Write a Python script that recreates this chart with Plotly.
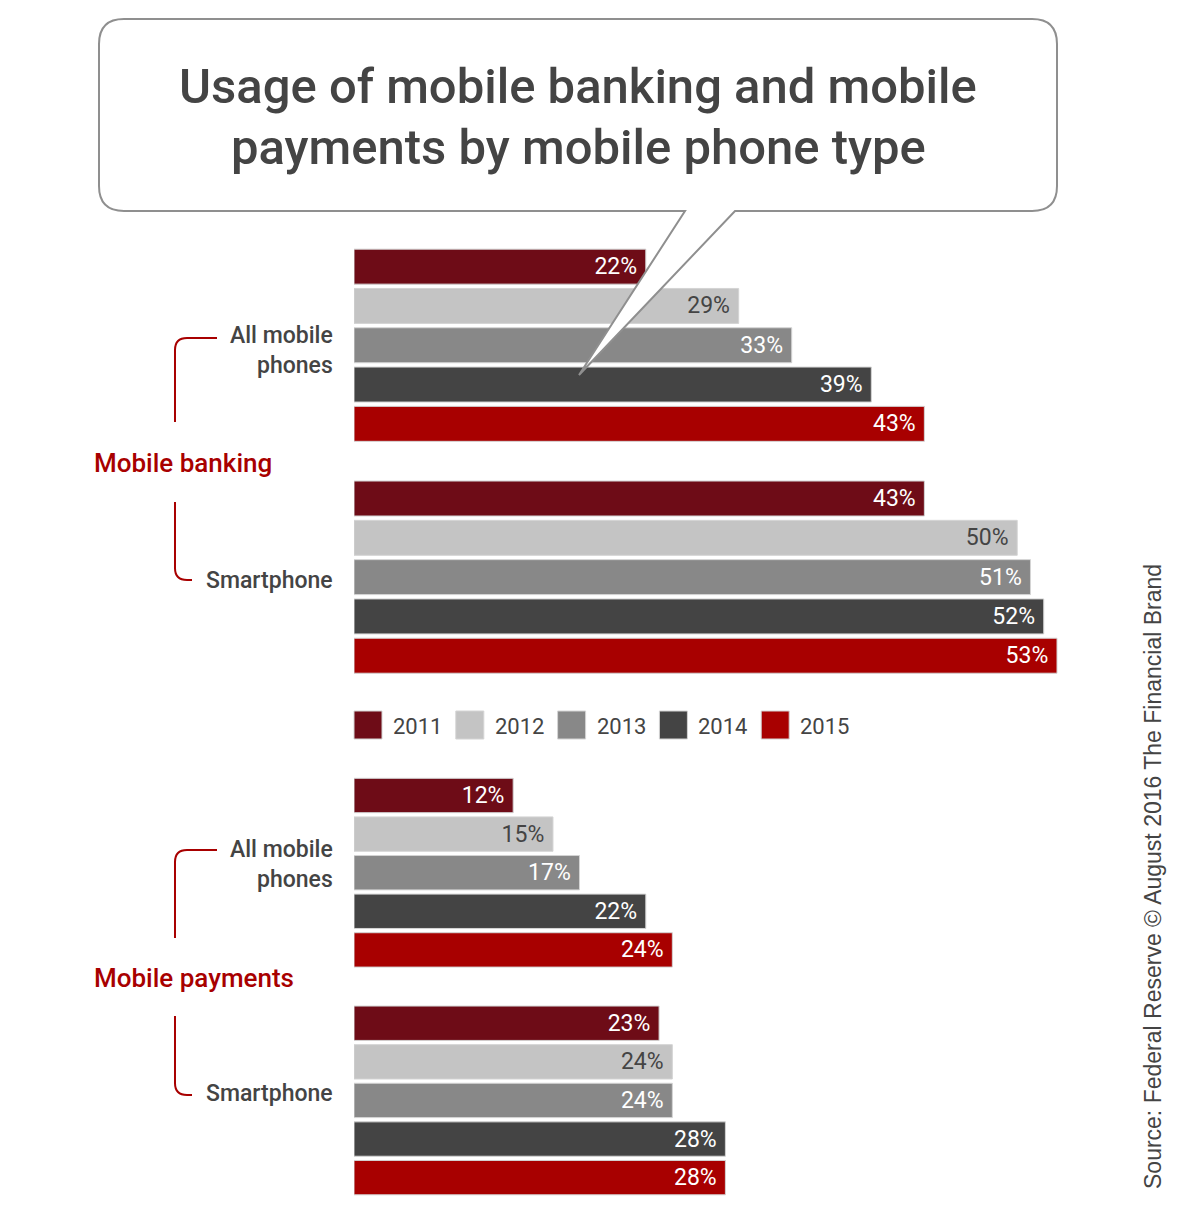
import plotly.graph_objects as go

W, H = 1182, 1212

years = ["2011", "2012", "2013", "2014", "2015"]
colors = ["#6e0c17", "#c4c4c4", "#888888", "#444444", "#a80000"]
text_colors = ["white", "#444444", "white", "white", "white"]

panels = ["Mobile banking", "Mobile payments"]
phone_types = ["All mobile<br>phones", "Smartphone"]

# percent of users, one entry per year
banking_all = [22, 29, 33, 39, 43]
banking_smart = [43, 50, 51, 52, 53]
payments_all = [12, 15, 17, 22, 24]
payments_smart = [23, 24, 24, 28, 28]

title_lines = ["Usage of mobile banking and mobile", "payments by mobile phone type"]
source = "Source: Federal Reserve © August 2016 The Financial Brand"

COND = "Roboto, 'Liberation Sans Narrow', sans-serif"
DARK = "#444444"
RED = "#a80000"

GAP = 5.9  # slot offset between the two phone-type groups


def px(x):
    return x / W


def py(y):
    return 1 - y / H


fig = go.Figure()

panel_data = [(banking_all, banking_smart), (payments_all, payments_smart)]
for p, (all_vals, smart_vals) in enumerate(panel_data):
    xa = "x" if p == 0 else "x2"
    ya = "y" if p == 0 else "y2"
    for j, yr in enumerate(years):
        fig.add_trace(
            go.Bar(
                x=[all_vals[j], smart_vals[j]],
                y=[j, j + GAP],
                orientation="h",
                width=0.89,
                name=yr,
                legendgroup=yr,
                showlegend=False,
                marker=dict(color=colors[j], line=dict(color="#d4d4d4", width=1)),
                texttemplate="%{x}%\u00a0",
                textposition="inside",
                insidetextanchor="end",
                constraintext="none",
                textfont=dict(family=COND, size=23, color=text_colors[j]),
                xaxis=xa,
                yaxis=ya,
                hovertemplate=panels[p] + " " + yr + ": %{x}%<extra></extra>",
            )
        )

x_scale = (1057 - 354) / 53
x_dom = [px(354), px(354 + 60 * x_scale)]
top0, top_pitch = 247, 39.3
bot0, bot_pitch = 776.2, 38.6
n_slots = 4 + GAP + 1

axis_off = dict(visible=False, showgrid=False, zeroline=False, fixedrange=True)
fig.update_layout(
    xaxis=dict(domain=x_dom, range=[0, 60], anchor="y", **axis_off),
    xaxis2=dict(domain=x_dom, range=[0, 60], anchor="y2", matches="x", **axis_off),
    yaxis=dict(
        domain=[py(top0 + n_slots * top_pitch), py(top0)],
        range=[4 + GAP + 0.5, -0.5],
        anchor="x",
        **axis_off,
    ),
    yaxis2=dict(
        domain=[py(bot0 + n_slots * bot_pitch), py(bot0)],
        range=[4 + GAP + 0.5, -0.5],
        anchor="x2",
        **axis_off,
    ),
)

shapes = []
annotations = []

# speech-bubble title box
def P(x, y):
    return f"{px(x):.5f},{py(y):.5f}"

bubble = (
    f"M{P(124, 19)} L{P(1032, 19)} Q{P(1057, 19)} {P(1057, 44)} "
    f"L{P(1057, 186)} Q{P(1057, 211)} {P(1032, 211)} L{P(735, 211)} "
    f"L{P(579, 375)} L{P(685, 211)} L{P(124, 211)} Q{P(99, 211)} {P(99, 186)} "
    f"L{P(99, 44)} Q{P(99, 19)} {P(124, 19)} Z"
)
shapes.append(dict(type="path", xref="paper", yref="paper", path=bubble,
                   fillcolor="white", line=dict(color="#8f8f8f", width=2), layer="above"))
for k, line in enumerate(title_lines):
    annotations.append(dict(x=px(578), y=py(87 + 60 * k), xref="paper", yref="paper",
                            text=line, showarrow=False, xanchor="center", yanchor="middle",
                            font=dict(family=COND, size=49, color=DARK, weight=500)))

# group brackets and labels
label_rows = [
    ((338, 422), (502, 580), 463, (350, 580)),
    ((850, 938), (1016, 1095), 978, (864, 1093)),
]
for p, (upper, lower, mid, lab_y) in enumerate(label_rows):
    shapes.append(dict(type="path", xref="paper", yref="paper",
                       path=f"M{P(217, upper[0])} L{P(187, upper[0])} Q{P(175, upper[0])} {P(175, upper[0] + 12)} L{P(175, upper[1])}",
                       line=dict(color=RED, width=2)))
    shapes.append(dict(type="path", xref="paper", yref="paper",
                       path=f"M{P(175, lower[0])} L{P(175, lower[1] - 12)} Q{P(175, lower[1])} {P(187, lower[1])} L{P(192, lower[1])}",
                       line=dict(color=RED, width=2)))
    annotations.append(dict(x=px(92), y=py(mid), xref="paper", yref="paper", text=panels[p],
                            showarrow=False, xanchor="left", yanchor="middle",
                            font=dict(family=COND, size=26, color=RED, weight=500)))
    for k, t in enumerate(phone_types):
        annotations.append(dict(x=px(335), y=py(lab_y[k]), xref="paper", yref="paper", text=t,
                                showarrow=False, xanchor="right", yanchor="middle", align="right",
                                font=dict(family=COND, size=23, color=DARK, weight=500)))

# legend row
for j, yr in enumerate(years):
    x0 = 354 + 101.8 * j
    shapes.append(dict(type="rect", xref="paper", yref="paper",
                       x0=px(x0), x1=px(x0 + 28), y0=py(739), y1=py(711),
                       fillcolor=colors[j], line=dict(color="#d4d4d4", width=1)))
    annotations.append(dict(x=px(x0 + 37), y=py(726), xref="paper", yref="paper", text=yr,
                            showarrow=False, xanchor="left", yanchor="middle",
                            font=dict(family=COND, size=22, color=DARK)))

annotations.append(dict(x=px(1153), y=py(877), xref="paper", yref="paper", text=source,
                        showarrow=False, textangle=-90, xanchor="center", yanchor="middle",
                        font=dict(family="'Liberation Sans', Arial, sans-serif", size=23, color=DARK)))

fig.update_layout(
    width=W,
    height=H,
    margin=dict(l=0, r=0, t=0, b=0),
    paper_bgcolor="white",
    plot_bgcolor="white",
    barmode="overlay",
    showlegend=False,
    shapes=shapes,
    annotations=annotations,
)

# drop the page's default body margin so the figure sits at the window's corner
fig.write_html(
    "out.html",
    config={"displayModeBar": False},
    post_script="document.body.style.margin = '0';",
)
